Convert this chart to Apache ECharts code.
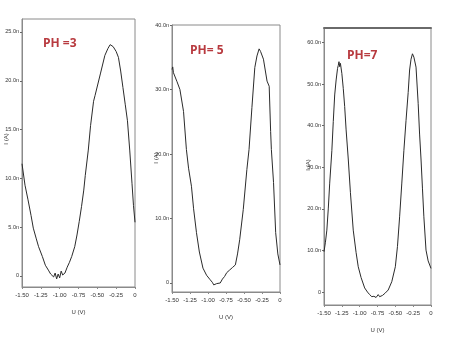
<!DOCTYPE html>
<html>
<head>
<meta charset="utf-8">
<script src="https://cdn.jsdelivr.net/npm/echarts@6/dist/echarts.min.js"></script>
<style>
  html, body { margin: 0; padding: 0; background: #fff; }
  #chart { width: 474px; height: 345px; }
</style>
</head>
<body>
<div id="chart"></div>
<script>
// Voltammograms recorded at three pH values: current (nA) against potential (V)
const ph3Voltage = [-1.50,-1.46,-1.42,-1.38,-1.35,-1.31,-1.28,-1.23,-1.19,-1.15,-1.12,-1.10,-1.08,-1.06,-1.04,-1.02,-1.00,-0.98,-0.96,-0.93,-0.90,-0.87,-0.84,-0.80,-0.77,-0.74,-0.71,-0.68,-0.66,-0.62,-0.59,-0.55,-0.53,-0.46,-0.40,-0.36,-0.33,-0.31,-0.29,-0.25,-0.22,-0.19,-0.16,-0.13,-0.10,-0.07,-0.04,-0.02,0.00];
const ph3Current = [11.5,9.3,7.8,6.2,4.9,3.8,3.0,2.0,1.1,0.6,0.2,0.4,-0.1,0.3,-0.3,0.2,-0.2,0.5,0.1,0.3,0.9,1.4,2.0,3.0,4.2,5.6,7.1,8.8,10.3,12.9,15.4,17.9,18.5,20.7,22.6,23.3,23.7,23.8,23.5,23.0,22.4,21.0,19.3,17.6,15.9,12.9,9.5,7.2,5.5];

const ph5Voltage = [-1.50,-1.49,-1.48,-1.46,-1.43,-1.39,-1.34,-1.30,-1.27,-1.23,-1.20,-1.16,-1.12,-1.07,-1.02,-0.97,-0.94,-0.92,-0.90,-0.88,-0.86,-0.83,-0.80,-0.77,-0.74,-0.70,-0.66,-0.62,-0.59,-0.56,-0.51,-0.46,-0.43,-0.39,-0.35,-0.32,-0.29,-0.27,-0.23,-0.18,-0.15,-0.13,-0.12,-0.09,-0.06,-0.03,0.00];
const ph5Current = [33.1,33.5,32.6,32.3,31.2,30.0,26.6,20.7,17.8,15.0,11.5,7.8,4.8,2.3,1.2,0.5,0.1,-0.3,-0.5,-0.1,-0.4,0.0,0.6,1.0,1.6,2.0,2.4,2.8,4.5,6.7,11.4,17.6,20.7,27.2,33.4,35.2,36.3,35.9,34.7,31.3,30.5,23.5,20.7,15.6,7.8,4.5,2.8];

const ph7Voltage = [-1.50,-1.48,-1.46,-1.44,-1.42,-1.39,-1.37,-1.35,-1.33,-1.31,-1.30,-1.29,-1.28,-1.27,-1.25,-1.23,-1.21,-1.19,-1.16,-1.13,-1.09,-1.05,-1.02,-0.98,-0.93,-0.89,-0.86,-0.83,-0.80,-0.77,-0.74,-0.72,-0.68,-0.64,-0.60,-0.55,-0.50,-0.47,-0.44,-0.41,-0.38,-0.35,-0.32,-0.30,-0.28,-0.26,-0.24,-0.21,-0.18,-0.16,-0.14,-0.12,-0.10,-0.07,-0.04,0.00];
const ph7Current = [9.7,12.0,14.9,20.0,26.2,34.0,41.0,47.4,51.0,53.8,54.5,55.4,54.2,55.0,52.6,49.0,44.6,39.0,32.0,24.0,14.9,9.5,6.1,3.5,1.0,0.0,-0.6,-1.1,-1.0,-1.3,-0.6,-1.1,-0.8,-0.2,0.5,2.5,6.1,11.0,18.1,26.0,34.1,41.3,48.0,53.4,56.0,57.3,56.5,54.1,45.4,38.0,32.0,25.0,18.1,10.1,7.5,5.7];

const xTicks = [-1.5,-1.25,-1.0,-0.75,-0.5,-0.25,0];
const yTicksPh3 = [0,5,10,15,20,25];
const yTicksPh5 = [0,10,20,30,40];
const yTicksPh7 = [0,10,20,30,40,50,60];
const panelTitles = ['PH =3', 'PH= 5', 'PH=7'];

const zip = (xs, ys) => xs.map((x, i) => [x, ys[i]]);

const panels = [
  { grid: { left: 22, top: 19, width: 113, height: 268 }, yMin: -1.13, yMax: 26.33, ticks: yTicksPh3, data: zip(ph3Voltage, ph3Current), title: { left: 43, top: 38 }, yName: { x: 6, y: 139 } },
  { grid: { left: 172, top: 25, width: 108, height: 267 }, yMin: -1.4, yMax: 40, ticks: yTicksPh5, data: zip(ph5Voltage, ph5Current), title: { left: 190, top: 45 }, yName: { x: 156, y: 158 } },
  { grid: { left: 324, top: 28, width: 107, height: 277 }, yMin: -3.1, yMax: 63.5, ticks: yTicksPh7, data: zip(ph7Voltage, ph7Current), title: { left: 347, top: 50 }, yName: { x: 308, y: 165 } }
];

const labelFont = "'Liberation Sans Narrow', 'Liberation Sans', sans-serif";

const option = {
  backgroundColor: '#fff',
  animation: false,
  title: panels.map((p, i) => ({
    text: panelTitles[i],
    left: p.title.left,
    top: p.title.top,
    padding: 0,
    textStyle: { color: '#b83a3f', fontWeight: 'bold', fontSize: 12, fontFamily: "'Open Sans', sans-serif" }
  })),
  grid: panels.map(p => Object.assign({ show: true, borderColor: '#8a8a8a', borderWidth: 1, backgroundColor: '#fff' }, p.grid)),
  xAxis: panels.map((p, i) => ({
    type: 'value',
    gridIndex: i,
    min: -1.5,
    max: 0,
    interval: 0.25,
    name: 'U (V)',
    nameLocation: 'middle',
    nameGap: 22,
    nameTextStyle: { fontSize: 6, color: '#333', fontFamily: labelFont },
    splitLine: { show: false },
    axisLine: { onZero: false, lineStyle: { color: '#8a8a8a', width: 1 } },
    axisTick: { show: true, length: 2, lineStyle: { color: '#8a8a8a' } },
    axisLabel: {
      fontSize: 6, color: '#333', margin: 5, fontFamily: labelFont,
      formatter: v => (v === 0 ? '0' : v.toFixed(2))
    }
  })).concat([{
    // heavier top edge on the third panel
    type: 'value', gridIndex: 2, position: 'top', min: -1.5, max: 0,
    axisLine: { onZero: false, lineStyle: { color: '#6a6a6a', width: 2 } },
    axisTick: { show: false }, axisLabel: { show: false }, splitLine: { show: false }
  }]),
  yAxis: panels.map((p, i) => ({
    type: 'value',
    gridIndex: i,
    min: p.yMin,
    max: p.yMax,
    splitLine: { show: false },
    axisLine: { onZero: false, lineStyle: { color: '#8a8a8a', width: 1 } },
    axisTick: { show: true, length: 2, customValues: p.ticks, lineStyle: { color: '#666' } },
    axisLabel: {
      fontSize: 5.5, color: '#333', margin: 3, fontFamily: labelFont,
      customValues: p.ticks,
      formatter: v => (v === 0 ? '0' : v.toFixed(1) + 'n')
    }
  })),
  graphic: panels.map(p => ({
    type: 'text',
    x: p.yName.x,
    y: p.yName.y,
    rotation: Math.PI / 2,
    style: { text: 'I (A)', fontSize: 6, fill: '#333', font: "6px " + labelFont, textAlign: 'center', textVerticalAlign: 'middle' }
  })),
  series: panels.map((p, i) => ({
    type: 'line',
    xAxisIndex: i,
    yAxisIndex: i,
    data: p.data,
    showSymbol: false,
    smooth: false,
    lineStyle: { color: '#2b2b2b', width: 1 }
  }))
};

const chart = echarts.init(document.getElementById('chart'), null, { renderer: 'canvas' });
chart.setOption(option);
</script>
</body>
</html>
